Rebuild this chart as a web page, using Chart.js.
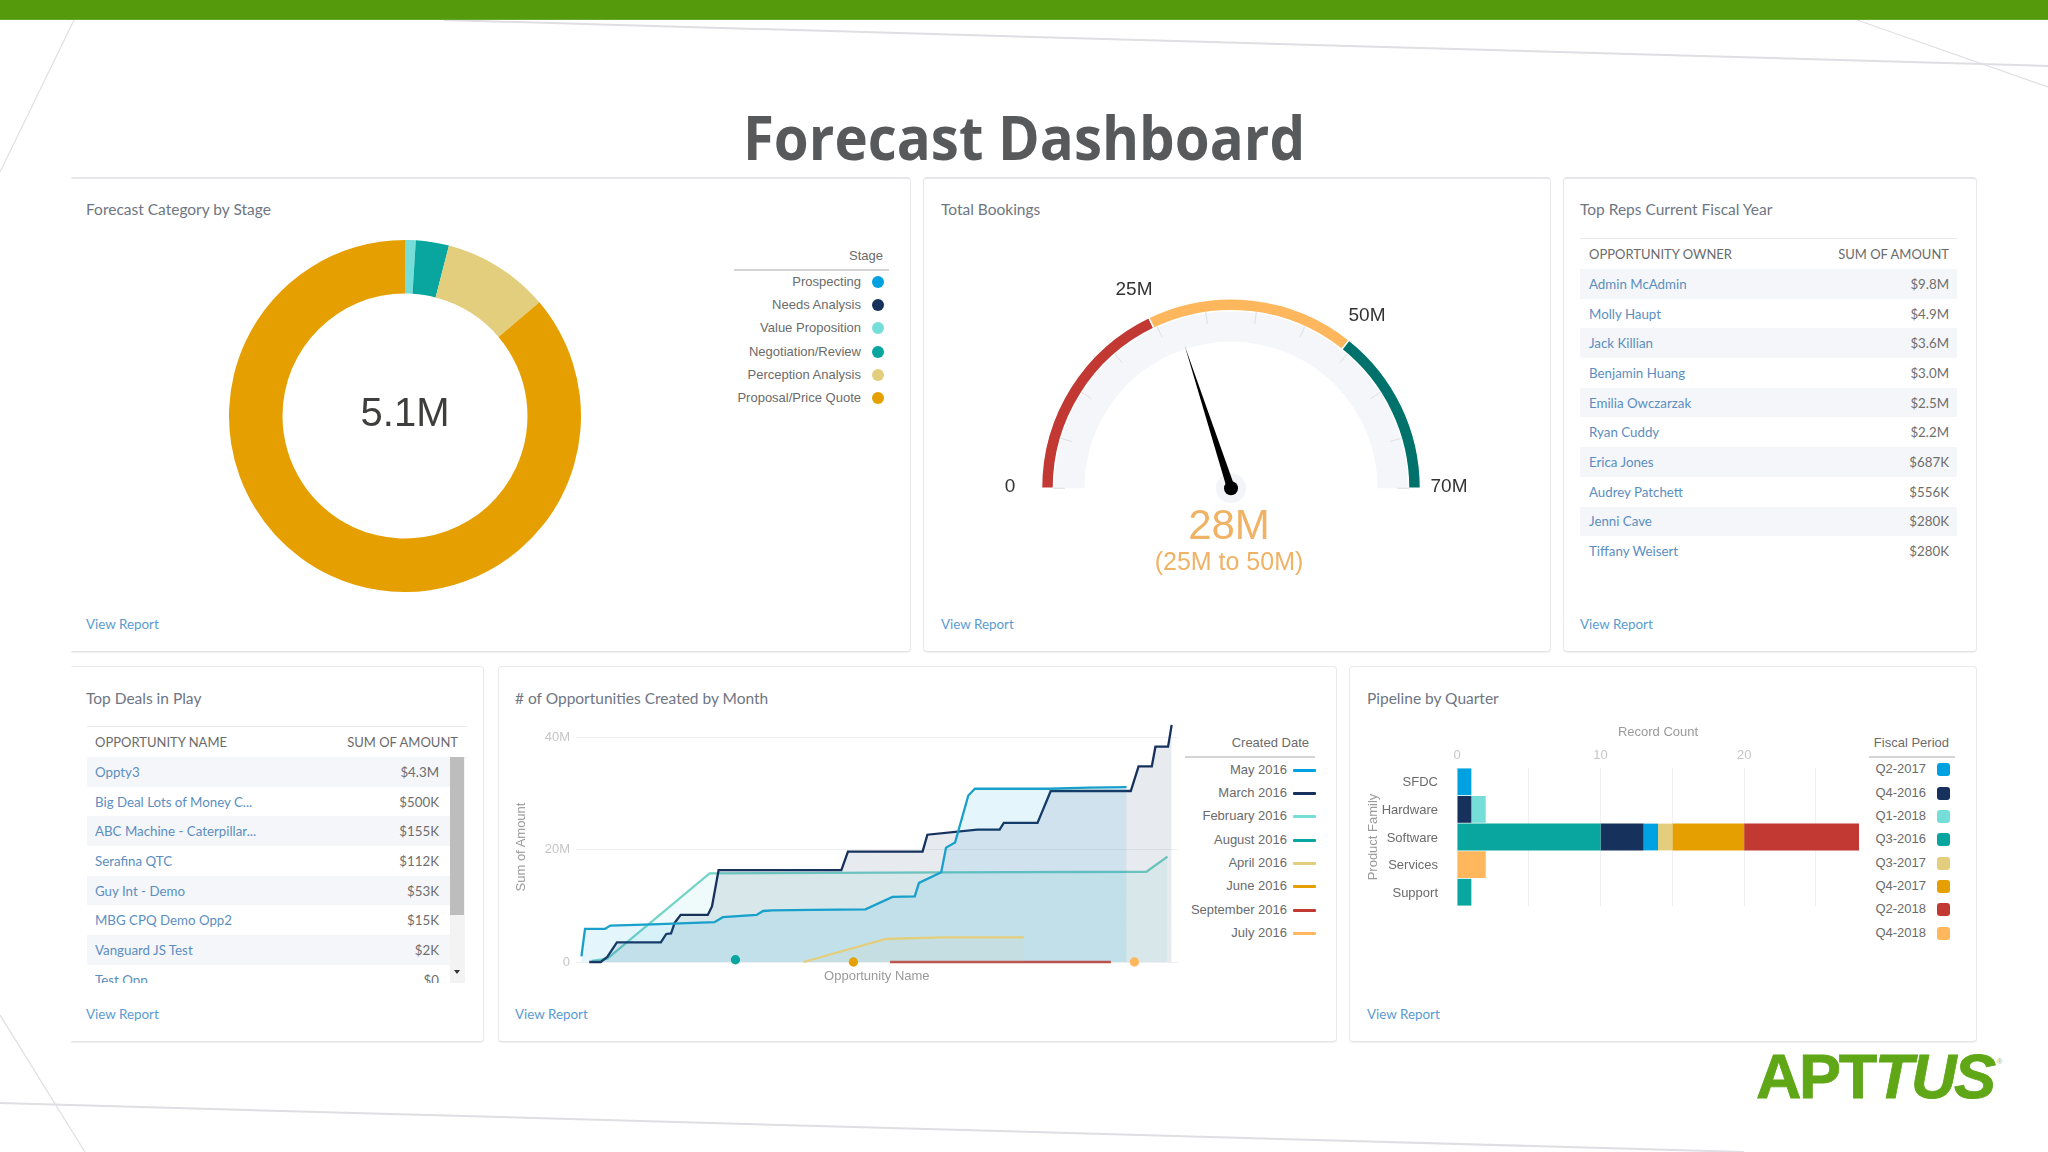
<!DOCTYPE html>
<html>
<head>
<meta charset="utf-8">
<title>Forecast Dashboard</title>
<script src="https://cdn.jsdelivr.net/npm/chart.js@4"></script>
<style>
  html, body { margin: 0; padding: 0; background: #fff; }
  #page { position: relative; width: 2048px; height: 1152px; overflow: hidden; background: #fff; font-family: "Liberation Sans", Arial, sans-serif; }
  #page canvas { position: absolute; display: block; }
  .abs { position: absolute; white-space: nowrap; }
  #topbar { position: absolute; left: 0; top: 0; width: 2048px; height: 19px; background: #549a0c; border-bottom: 1px solid #6aa82c; }
  #decor { position: absolute; left: 0; top: 0; }
  #title { left: 0; width: 2048px; top: 95px; text-align: center; font: bold 61px "Open Sans", sans-serif; color: #58595b; line-height: 84px; transform: scaleX(0.925); }
  .panel { position: absolute; box-sizing: border-box; background: #fff; border: 1px solid #eaeaee; border-bottom-color: #e4e4e8; border-radius: 4px; box-shadow: 0 1px 1px rgba(0,0,0,.06); }
  .panel.noleft { border-left-color: transparent; border-top-left-radius: 0; border-bottom-left-radius: 0; }
  .panel.upper { border-top: 2px solid #e6e6ea; }
  .ptitle { font: 15.5px Lato, sans-serif; color: #6e7683; line-height: 20px; }
  .vreport { font: 13.4px Lato, sans-serif; color: #5a9bd0; line-height: 18px; }
  .lg { font-size: 13px; color: #6b6b6b; line-height: 16px; }
  .rule { position: absolute; height: 2px; background: #d4d4d6; }
  .tbl-head { font: 13px Lato, sans-serif; color: #6b6b6b; line-height: 16px; }
  .tbl-name { font: 13.3px Lato, sans-serif; color: #5b8ec0; line-height: 18px; }
  .tbl-amt { font: 13.3px Lato, sans-serif; color: #6e6e6e; line-height: 18px; }
</style>
</head>
<body>
<div id="page">
  <svg id="decor" width="2048" height="1152">
    <g stroke="#dfdfe3" fill="none">
      <line x1="444" y1="20" x2="2048" y2="66" stroke-width="2"/>
      <line x1="1857" y1="20" x2="2048" y2="87" stroke-width="1.2"/>
      <line x1="74" y1="20" x2="0" y2="172" stroke-width="1.2"/>
      <line x1="0" y1="1103" x2="1744" y2="1152" stroke-width="2"/>
      <line x1="0" y1="1015" x2="85" y2="1152" stroke-width="1.2"/>
    </g>
  </svg>
  <div id="topbar"></div>
  <div id="title" class="abs">Forecast Dashboard</div>
</div>

<script>
// Forecast Category by Stage
const stageLabels = ["Prospecting", "Needs Analysis", "Value Proposition", "Negotiation/Review", "Perception Analysis", "Proposal/Price Quote"];
const stageAmounts = [0, 0, 0.05, 0.155, 0.5, 4.395];
const stageTotal = "5.1M";

// Total Bookings
const gaugeMax = 70;
const gaugeValue = 28;
const gaugeRanges = [25, 25, 20];
const gaugeTicks = 11;

// Top Reps Current Fiscal Year
const repNames = ["Admin McAdmin", "Molly Haupt", "Jack Killian", "Benjamin Huang", "Emilia Owczarzak", "Ryan Cuddy", "Erica Jones", "Audrey Patchett", "Jenni Cave", "Tiffany Weisert"];
const repAmounts = ["$9.8M", "$4.9M", "$3.6M", "$3.0M", "$2.5M", "$2.2M", "$687K", "$556K", "$280K", "$280K"];

// Top Deals in Play
const dealNames = ["Oppty3", "Big Deal Lots of Money C...", "ABC Machine - Caterpillar...", "Serafina QTC", "Guy Int - Demo", "MBG CPQ Demo Opp2", "Vanguard JS Test", "Test Opp"];
const dealAmounts = ["$4.3M", "$500K", "$155K", "$112K", "$53K", "$15K", "$2K", "$0"];

// # of Opportunities Created by Month, x is the rank along the Opportunity Name axis
const amountTicks = [0, 20, 40];
const mayRank = [0.9, 1.5, 4.8, 5.7, 12.6, 23, 24.4, 30, 31.1, 32.6, 39.3, 48.1, 52.6, 56.3, 57, 60.7, 61.5, 63, 65.2, 66.3, 78.5, 85.2, 91.5];
const mayAmount = [1, 5.9, 5.9, 6.5, 6.7, 7.1, 8, 8.4, 9.1, 9.2, 9.3, 9.4, 11.6, 11.7, 14.1, 16, 20.4, 21.3, 29.7, 30.9, 30.9, 31.1, 31.2];
const marchRank = [2.2, 4.1, 5.2, 6.8, 14.1, 15, 15.8, 16.4, 17.4, 21.9, 22.6, 23.7, 44.1, 45.2, 57.6, 58.4, 66.7, 70.4, 71.1, 76.7, 78.9, 92.2, 93.5, 95.7, 96.3, 98.4, 99];
const marchAmount = [0, 0, 0.9, 3.5, 3.5, 5, 5.1, 7, 8.4, 8.4, 9.9, 16.4, 16.4, 19.7, 19.7, 22.7, 23.6, 23.6, 24.8, 24.8, 30.5, 30.5, 34.9, 34.9, 38.4, 38.4, 42.3];
const februaryRank = [2.6, 5.2, 22.2, 61.5, 94.8, 98.3];
const februaryAmount = [0.2, 0.6, 15.8, 16, 16.1, 18.8];
const augustRank = [26.5];
const augustAmount = [0.4];
const aprilRank = [37.8, 51.5, 60.7, 74.4];
const aprilAmount = [0, 4.1, 4.4, 4.4];
const juneRank = [46.1];
const juneAmount = [0];
const septemberRank = [52.2, 88.9];
const septemberAmount = [0, 0];
const julyRank = [92.8];
const julyAmount = [0];

// Pipeline by Quarter
const families = ["SFDC", "Hardware", "Software", "Services", "Support"];
const countTicks = [0, 5, 10, 15, 20, 25];
const q32016 = [0, 0, 10, 0, 1];
const q42016 = [0, 1, 3, 0, 0];
const q22017 = [1, 0, 1, 0, 0];
const q32017 = [0, 0, 1, 0, 0];
const q42017 = [0, 0, 5, 0, 0];
const q22018 = [0, 0, 8, 0, 0];
const q12018 = [0, 1, 0, 0, 0];
const q42018 = [0, 0, 0, 2, 0];

const BLUE = "#00a1e0", NAVY = "#16325c", MINT = "#76ded9", TEAL = "#08a69e",
      TAN = "#e2ce7d", AMBER = "#e69f00", RED = "#c23934", ORANGE = "#ffb75d";

const page = document.getElementById("page");

function addEl(cls, text, css) {
  const el = document.createElement("div");
  el.className = cls;
  if (text !== null) el.textContent = text;
  Object.assign(el.style, css);
  page.appendChild(el);
  return el;
}

function addCanvas(left, top, width, height) {
  const c = document.createElement("canvas");
  c.width = width;
  c.height = height;
  c.style.left = left + "px";
  c.style.top = top + "px";
  c.style.width = width + "px";
  c.style.height = height + "px";
  page.appendChild(c);
  return c;
}

function box(left, top, width, height) {
  return { left: left + "px", top: top + "px", width: width + "px", height: height + "px" };
}

// panels
function addPanel(left, top, right, bottom, name, viewY, cls) {
  addEl("panel " + cls, null, box(left, top, right - left, bottom - top));
  const textX = name.x;
  addEl("abs ptitle", name.text, { left: textX + "px", top: top + 22 + "px" });
  addEl("abs vreport", "View Report", { left: textX + "px", top: viewY - 9 + "px" });
}
addPanel(71, 177, 911, 652, { text: "Forecast Category by Stage", x: 86 }, 624, "noleft upper");
addPanel(923, 177, 1551, 652, { text: "Total Bookings", x: 941 }, 624, "upper");
addPanel(1563, 177, 1977, 652, { text: "Top Reps Current Fiscal Year", x: 1580 }, 624, "upper");
addPanel(71, 666, 484, 1042, { text: "Top Deals in Play", x: 86 }, 1014, "noleft");
addPanel(498, 666, 1337, 1042, { text: "# of Opportunities Created by Month", x: 515 }, 1014, "");
addPanel(1349, 666, 1977, 1042, { text: "Pipeline by Quarter", x: 1367 }, 1014, "");

// legends
function addLegendHead(text, right, y, ruleLeft, ruleRight) {
  addEl("abs lg", text, { right: 2048 - right + "px", top: y - 8 + "px" });
  addEl("rule", null, box(ruleLeft, y + 13, ruleRight - ruleLeft, 2));
}
function addLegendRow(text, textRight, y) {
  addEl("abs lg", text, { right: 2048 - textRight + "px", top: y - 8 + "px" });
}

const stageColors = [BLUE, NAVY, MINT, TEAL, TAN, AMBER];
addLegendHead("Stage", 883, 256, 734, 889);
const stageRows = [282, 305, 328, 352, 375, 398];
stageLabels.forEach(function (label, i) {
  addLegendRow(label, 861, stageRows[i]);
  addEl("abs", null, Object.assign(box(872, stageRows[i] - 6, 12, 12), { background: stageColors[i], borderRadius: "50%" }));
});

const monthRows = [770, 793, 816, 840, 863, 886, 910, 933];
const monthColors = [BLUE, NAVY, MINT, TEAL, TAN, AMBER, RED, ORANGE];
const monthLabels = ["May 2016", "March 2016", "February 2016", "August 2016", "April 2016", "June 2016", "September 2016", "July 2016"];
addLegendHead("Created Date", 1309, 743, 1185, 1315);
monthLabels.forEach(function (label, i) {
  addLegendRow(label, 1287, monthRows[i]);
  addEl("abs", null, Object.assign(box(1293, monthRows[i] - 1, 23, 3), { background: monthColors[i], borderRadius: "1px" }));
});

const periodRows = [769, 793, 816, 839, 863, 886, 909, 933];
const periodLabels = ["Q2-2017", "Q4-2016", "Q1-2018", "Q3-2016", "Q3-2017", "Q4-2017", "Q2-2018", "Q4-2018"];
const periodColors = [BLUE, NAVY, MINT, TEAL, TAN, AMBER, RED, ORANGE];
addLegendHead("Fiscal Period", 1949, 743, 1869, 1955);
periodLabels.forEach(function (label, i) {
  addLegendRow(label, 1926, periodRows[i]);
  addEl("abs", null, Object.assign(box(1937, periodRows[i] - 6.5, 13, 13), { background: periodColors[i], borderRadius: "3px" }));
});

// tables
function addTable(opts) {
  addEl("abs", null, Object.assign(box(opts.left, opts.top, opts.right - opts.left, 1), { background: "#e9e9ec" }));
  addEl("abs tbl-head", opts.head[0], { left: opts.nameX + "px", top: opts.top + 8 + "px" });
  addEl("abs tbl-head", opts.head[1], { right: 2048 - opts.headRight + "px", top: opts.top + 8 + "px" });
  addEl("abs", null, Object.assign(box(opts.left, opts.top + 31, opts.right - opts.left, 1), { background: "#ecedf0" }));
  const clip = addEl("abs", null, Object.assign(box(opts.left, opts.top + 31, opts.bodyRight - opts.left, opts.clipH), { overflow: "hidden" }));
  opts.names.forEach(function (name, i) {
    const y = i * opts.step;
    const row = document.createElement("div");
    row.className = "abs";
    Object.assign(row.style, box(0, y, opts.bodyRight - opts.left, opts.step));
    if (i % 2 === 0) row.style.background = "#f4f6f9";
    const n = document.createElement("div");
    n.className = "abs tbl-name";
    n.textContent = name;
    n.style.left = opts.nameX - opts.left + "px";
    n.style.top = (opts.step - 18) / 2 + "px";
    const a = document.createElement("div");
    a.className = "abs tbl-amt";
    a.textContent = opts.amounts[i];
    a.style.right = opts.bodyRight - opts.amtRight + "px";
    a.style.top = (opts.step - 18) / 2 + "px";
    row.appendChild(n);
    row.appendChild(a);
    clip.appendChild(row);
  });
}
addTable({ left: 1580, right: 1957, bodyRight: 1957, top: 238, nameX: 1589, headRight: 1949, amtRight: 1949, step: 29.7, clipH: 300,
  head: ["OPPORTUNITY OWNER", "SUM OF AMOUNT"], names: repNames, amounts: repAmounts });
addTable({ left: 87, right: 467, bodyRight: 450, top: 726, nameX: 95, headRight: 458, amtRight: 439, step: 29.7, clipH: 226,
  head: ["OPPORTUNITY NAME", "SUM OF AMOUNT"], names: dealNames, amounts: dealAmounts });
addEl("abs", null, Object.assign(box(450, 757, 15, 226), { background: "#f3f3f3" }));
addEl("abs", null, Object.assign(box(450, 757, 14, 158), { background: "#bdbdbd" }));
addEl("abs", null, { left: "454px", top: "970px", width: 0, height: 0, borderLeft: "3.5px solid transparent", borderRight: "3.5px solid transparent", borderTop: "4px solid #333" });

// donut
new Chart(addCanvas(229, 240, 352, 352), {
  type: "doughnut",
  data: {
    labels: stageLabels,
    datasets: [{ data: stageAmounts, backgroundColor: stageColors, borderWidth: 0 }],
  },
  options: {
    responsive: false,
    animation: false,
    cutout: "69.6%",
    plugins: { legend: { display: false }, tooltip: { enabled: false } },
  },
});
addEl("abs", stageTotal, { left: "229px", width: "352px", textAlign: "center", top: "387px", font: "40px/50px 'Liberation Sans', Arial, sans-serif", color: "#3e3e3c" });

// gauge
const needlePlugin = {
  id: "needle",
  afterDatasetsDraw(chart) {
    const arc = chart.getDatasetMeta(0).data[0];
    const ctx = chart.ctx;
    const cx = arc.x, cy = arc.y;
    // ticks on the grey band
    ctx.save();
    ctx.strokeStyle = "#dcdfe4";
    ctx.lineWidth = 1;
    for (let i = 0; i <= gaugeTicks; i++) {
      const a = Math.PI + (i / gaugeTicks) * Math.PI;
      ctx.beginPath();
      ctx.moveTo(cx + Math.cos(a) * 178, cy + Math.sin(a) * 178);
      ctx.lineTo(cx + Math.cos(a) * 166, cy + Math.sin(a) * 166);
      ctx.stroke();
    }
    // hub
    ctx.fillStyle = "#f3f4f7";
    ctx.beginPath();
    ctx.arc(cx, cy, 15, 0, Math.PI * 2);
    ctx.fill();
    // needle
    const ang = Math.PI + (gaugeValue / gaugeMax) * Math.PI;
    const nx = Math.cos(ang), ny = Math.sin(ang);
    ctx.fillStyle = "#000";
    ctx.beginPath();
    ctx.moveTo(cx + nx * 150, cy + ny * 150);
    ctx.lineTo(cx - ny * 4, cy + nx * 4);
    ctx.lineTo(cx + ny * 4, cy - nx * 4);
    ctx.closePath();
    ctx.fill();
    ctx.beginPath();
    ctx.arc(cx, cy, 7, 0, Math.PI * 2);
    ctx.fill();
    ctx.restore();
  },
};
new Chart(addCanvas(1040, 298, 382, 212), {
  type: "doughnut",
  data: {
    datasets: [
      { data: gaugeRanges, backgroundColor: [RED, ORANGE, "#00716b"], borderColor: "#fff", borderWidth: 1.5, weight: 12 },
      { data: [gaugeMax], backgroundColor: ["#f4f6f9"], borderWidth: 0, weight: 31 },
    ],
  },
  options: {
    responsive: false,
    animation: false,
    rotation: -90,
    circumference: 180,
    cutout: "77.4%",
    layout: { padding: { bottom: 21 } },
    plugins: { legend: { display: false }, tooltip: { enabled: false } },
  },
  plugins: [needlePlugin],
});
function gaugeText(text, cx, cy, size, color) {
  addEl("abs", text, { left: cx - 150 + "px", width: "300px", textAlign: "center", top: cy - size * 0.6 + "px", font: size + "px/" + size * 1.2 + "px 'Liberation Sans', Arial, sans-serif", color: color });
}
gaugeText("0", 1010, 486, 19, "#333");
gaugeText("25M", 1134, 289, 19, "#333");
gaugeText("50M", 1367, 315, 19, "#333");
gaugeText("70M", 1449, 486, 19, "#333");
gaugeText("28M", 1229, 525, 42, "#f0b264");
gaugeText("(25M to 50M)", 1229, 561, 25, "#f0b264");

// line chart
function pairs(xs, ys) {
  return xs.map(function (x, i) { return { x: x, y: ys[i] }; });
}
function lineSet(label, xs, ys, color, fill, order) {
  return {
    label: label,
    data: pairs(xs, ys),
    borderColor: color,
    backgroundColor: fill || color,
    pointBackgroundColor: color,
    borderWidth: 2.3,
    tension: 0,
    pointRadius: xs.length === 1 ? 3.5 : 0,
    fill: fill ? "origin" : false,
    clip: false,
    order: order || 0,
  };
}
new Chart(addCanvas(505, 709, 679, 275), {
  type: "line",
  data: {
    datasets: [
      lineSet("May 2016", mayRank, mayAmount, "#18a0cb", "rgba(0,161,224,.10)"),
      lineSet("March 2016", marchRank, marchAmount, NAVY, "rgba(22,50,92,.10)"),
      lineSet("February 2016", februaryRank, februaryAmount, "#76d3c8", "rgba(118,222,217,.12)"),
      lineSet("August 2016", augustRank, augustAmount, TEAL, null, -1),
      lineSet("April 2016", aprilRank, aprilAmount, TAN, "rgba(226,206,125,.08)", -1),
      lineSet("June 2016", juneRank, juneAmount, AMBER, null, -1),
      lineSet("September 2016", septemberRank, septemberAmount, "#b9514c", null, -1),
      lineSet("July 2016", julyRank, julyAmount, ORANGE, null, -1),
    ],
  },
  options: {
    responsive: false,
    animation: false,
    layout: { padding: { right: 2 } },
    plugins: { legend: { display: false }, tooltip: { enabled: false } },
    scales: {
      x: {
        type: "linear",
        min: 0,
        max: 100,
        grid: { display: false },
        border: { display: false },
        ticks: { display: false },
        title: { display: true, text: "Opportunity Name", color: "#9a9a9a", font: { family: "Liberation Sans", size: 13 }, padding: { top: 0, bottom: 0 } },
        afterFit(s) { s.height = 22; s.paddingLeft = 0; s.paddingRight = 0; },
      },
      y: {
        min: 0,
        max: 44,
        grid: { color: "#eeeff2", drawTicks: false },
        border: { display: false },
        afterBuildTicks(s) { s.ticks = amountTicks.map(function (v) { return { value: v }; }); },
        ticks: {
          color: "#c6c6c6",
          padding: 6,
          font: { family: "Liberation Sans", size: 13 },
          callback(v) { return v === 0 ? "0" : v + "M"; },
        },
        afterFit(s) { s.width = 71; s.paddingTop = 0; s.paddingBottom = 0; },
      },
    },
  },
});
addEl("abs", "Sum of Amount", { left: "471px", width: "100px", textAlign: "center", top: "839px", lineHeight: "16px", fontSize: "13px", color: "#9a9a9a", transform: "rotate(-90deg)" });

// stacked bars
function barSet(label, values, color) {
  return { label: label, data: values, backgroundColor: color, borderWidth: 0, barPercentage: 1, categoryPercentage: 0.97 };
}
new Chart(addCanvas(1360, 721, 501, 185), {
  type: "bar",
  data: {
    labels: families,
    datasets: [
      barSet("Q3-2016", q32016, TEAL),
      barSet("Q4-2016", q42016, NAVY),
      barSet("Q2-2017", q22017, BLUE),
      barSet("Q3-2017", q32017, TAN),
      barSet("Q4-2017", q42017, AMBER),
      barSet("Q2-2018", q22018, RED),
      barSet("Q1-2018", q12018, MINT),
      barSet("Q4-2018", q42018, ORANGE),
    ],
  },
  options: {
    indexAxis: "y",
    responsive: false,
    animation: false,
    layout: { padding: { right: 2 } },
    plugins: { legend: { display: false }, tooltip: { enabled: false } },
    scales: {
      x: {
        position: "top",
        stacked: true,
        min: 0,
        max: 28,
        grid: { color: "#f0f0f2", drawTicks: false },
        border: { display: false },
        afterBuildTicks(s) { s.ticks = countTicks.map(function (v) { return { value: v }; }); },
        ticks: {
          color: "#c6c6c6",
          padding: 5,
          autoSkip: false,
          maxRotation: 0,
          font: { family: "Liberation Sans", size: 13 },
          callback(v) { return v % 10 === 0 ? v : ""; },
        },
        title: { display: true, text: "Record Count", color: "#9a9a9a", font: { family: "Liberation Sans", size: 13 }, padding: { top: 4, bottom: 0 } },
        afterFit(s) { s.height = 47; s.paddingLeft = 0; s.paddingRight = 0; },
      },
      y: {
        stacked: true,
        grid: { display: false },
        border: { display: false },
        ticks: { color: "#6b6b6b", padding: 11, labelOffset: 1, font: { family: "Liberation Sans", size: 13 } },
        title: { display: true, text: "Product Family", color: "#9a9a9a", font: { family: "Liberation Sans", size: 13 }, padding: { top: 6, bottom: 0 } },
        afterFit(s) { s.width = 97; s.paddingTop = 0; s.paddingBottom = 0; },
      },
    },
  },
});

// logo
const logo = addEl("abs", null, { left: "1756px", top: "1026px", font: "bold 63px/72px 'Liberation Sans', Arial, sans-serif", color: "#5fa716", letterSpacing: "-2.4px", webkitTextStroke: "0.8px #5fa716" });
logo.innerHTML = 'APT<i>TUS</i><span style="font-size:8px;font-weight:normal;color:#9dbf7a;letter-spacing:0;-webkit-text-stroke:0;vertical-align:34px;margin-left:3px">&reg;</span>';
</script>
</body>
</html>
